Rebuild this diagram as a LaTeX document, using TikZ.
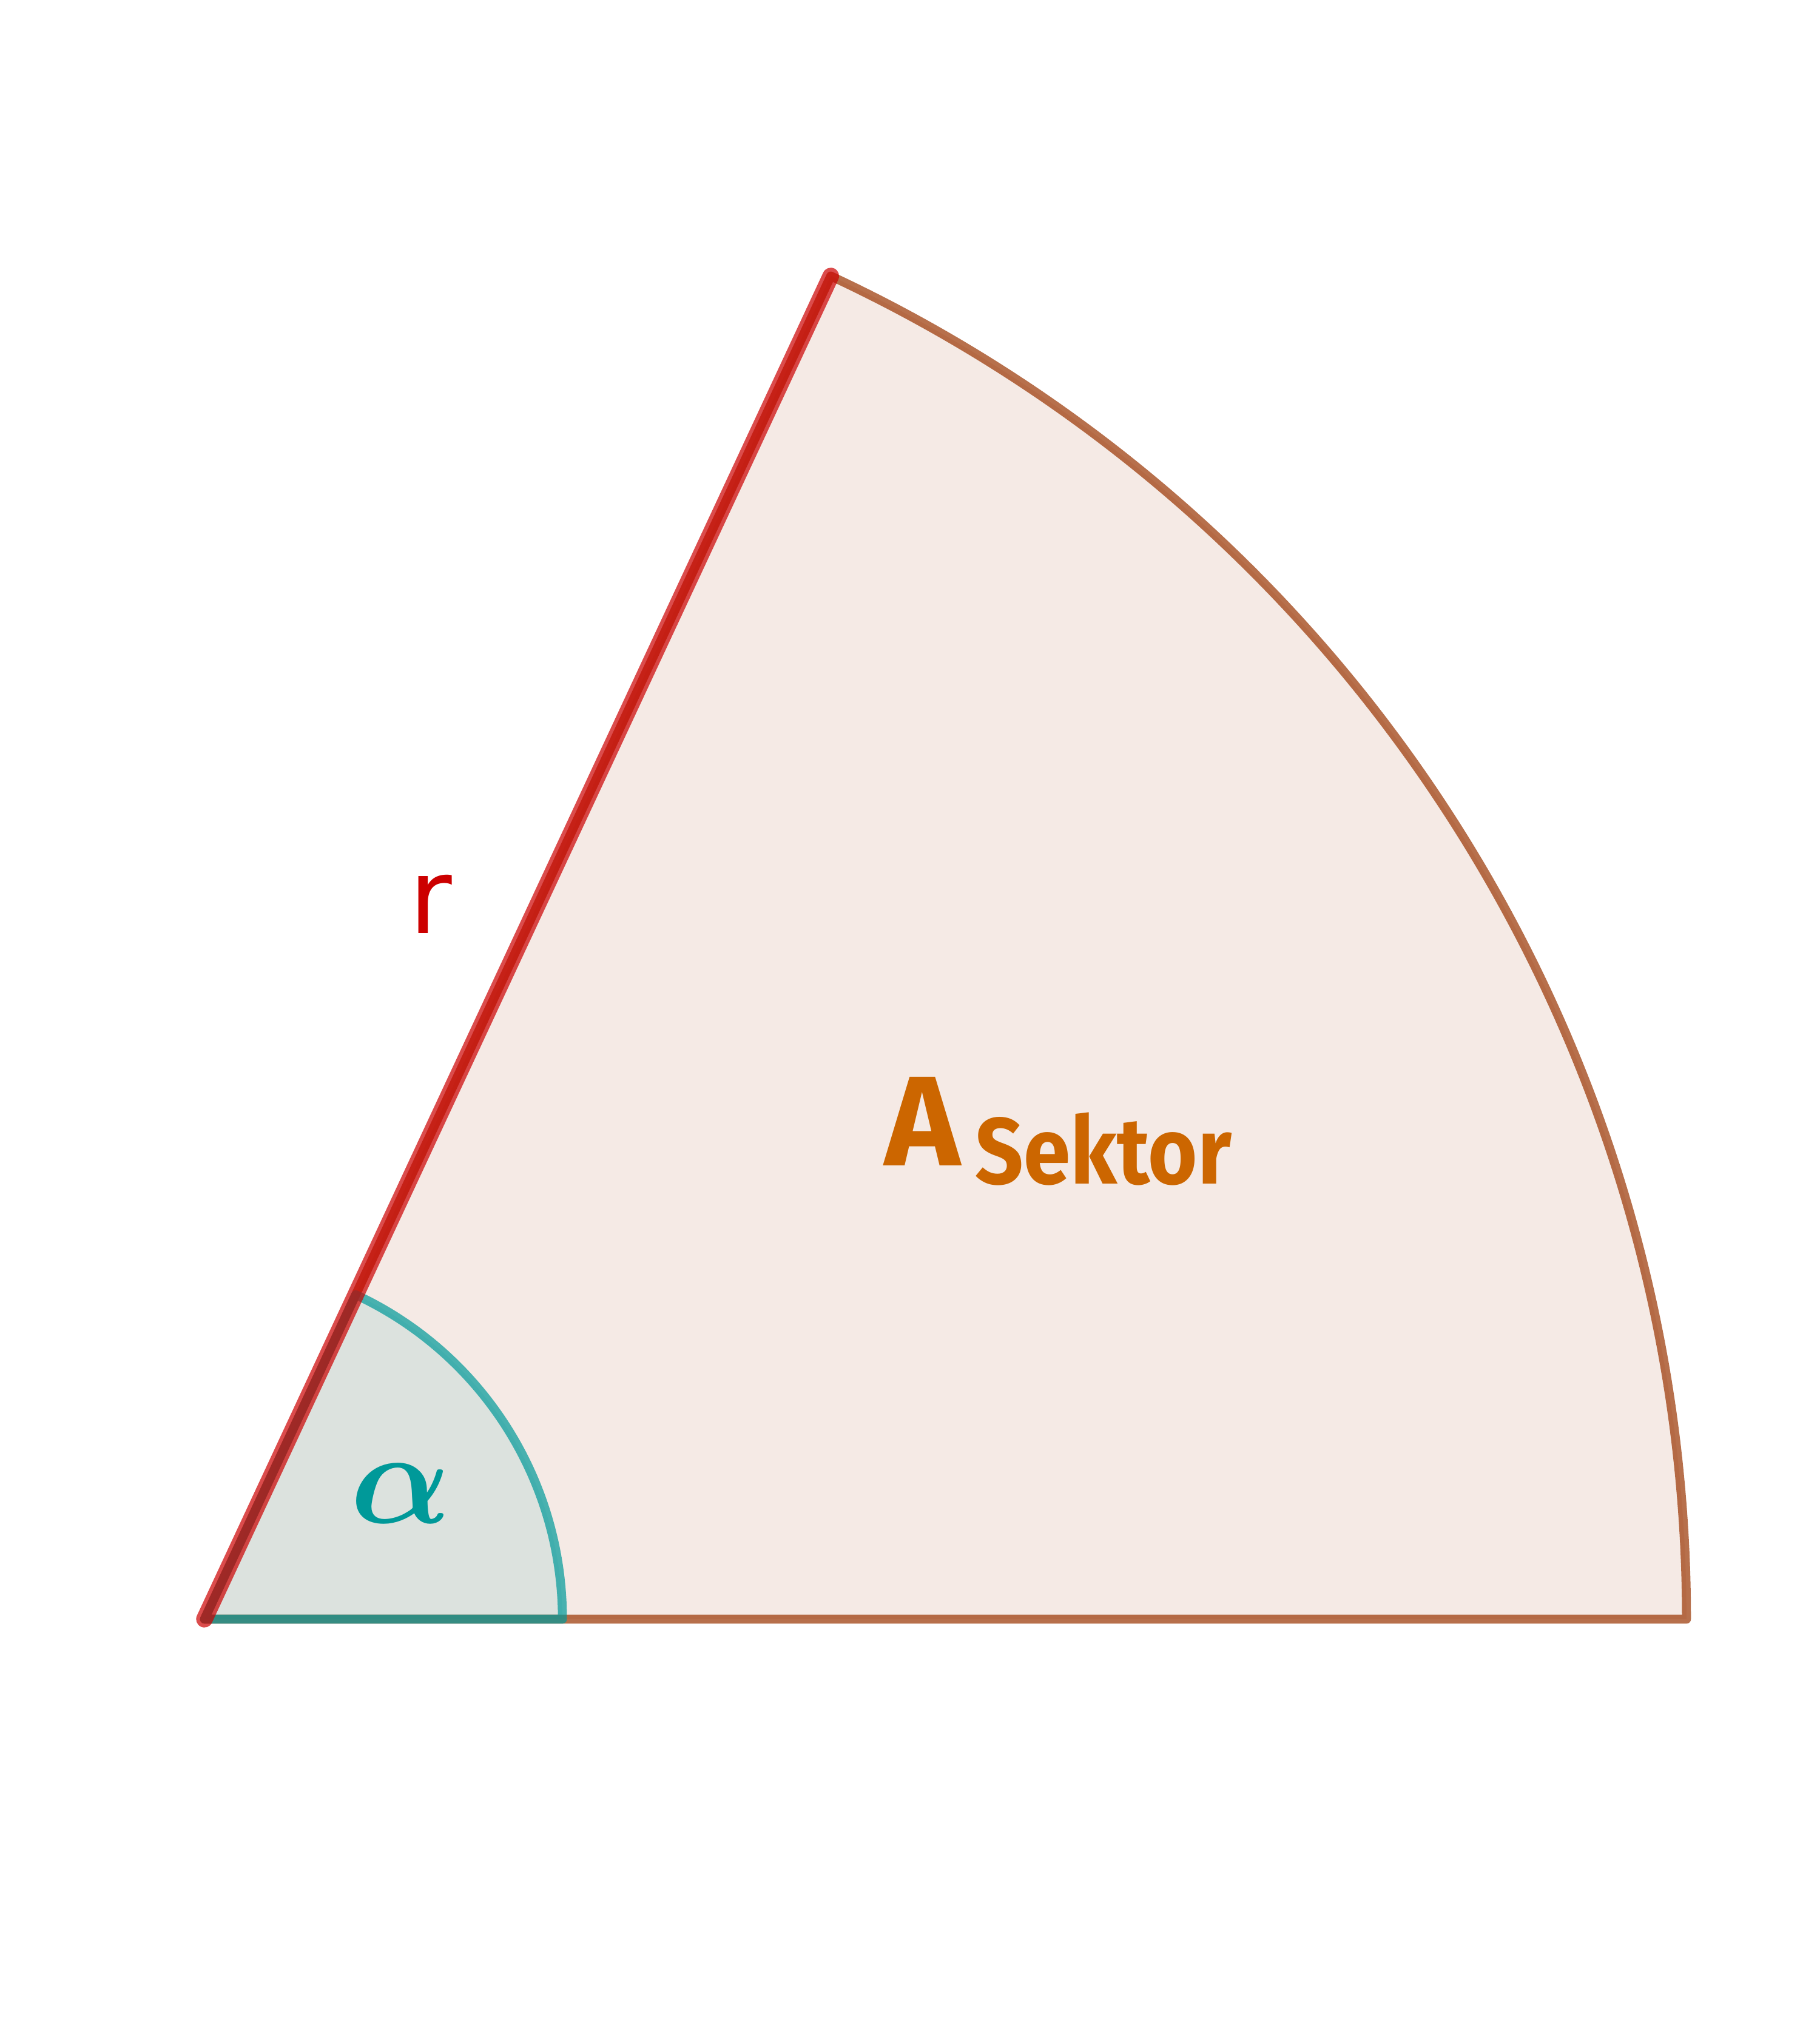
\documentclass[tikz,border=0pt]{standalone}
\usepackage{xcolor}
\usepackage{amsmath,bm}
\usepackage{fontspec}
\setsansfont{Fira Sans}
\newfontfamily\labelfont{DejaVu Sans}
\definecolor{sektorbraun}{HTML}{993300}
\definecolor{winkelteal}{HTML}{009999}
\definecolor{streckerot}{HTML}{CC0000}
\definecolor{textorange}{HTML}{CC6600}

\begin{document}
\begin{tikzpicture}[
		sektor/.style={draw=sektorbraun, draw opacity=0.7, fill=sektorbraun, fill opacity=0.1, line width=1.4pt, line join=round},
		winkel/.style={draw=winkelteal, draw opacity=0.7, fill=winkelteal, fill opacity=0.1, line width=1.4pt, line join=round},
		strecke/.style={draw=streckerot, draw opacity=0.7, line width=2.6pt, line cap=round}]
			\useasboundingbox (-1.1233,-2.3233) rectangle (8.8767,8.8967);
			\coordinate (O) at (0,0);
			\coordinate (P) at (8.143,0);
			\coordinate (Q) at (65:8.143);
			\coordinate (S) at (1.967,0);
			\path[sektor] (O)--(P) arc[start angle=0, end angle=65, radius=8.143]--cycle;
			\path[winkel] (O)--(S) arc[start angle=0, end angle=65, radius=1.967]--cycle;
			\draw[strecke] (O)--(Q);
			\node (r) at (1.243,3.77)[anchor=base, inner sep=0pt, text=streckerot]{\labelfont\fontsize{16.3}{18}\selectfont r};
			\node (alpha) at (1.08,0.69)[inner sep=0pt, text=winkelteal]{\fontsize{20}{24}\selectfont$\bm{\alpha}$};
			\node (A) at (3.73,2.493)[anchor=base west, inner sep=0pt, text=textorange]{\sffamily\bfseries\fontsize{20}{24}\selectfont A\hspace{2.4pt}\raisebox{-2.85pt}{\scalebox{0.9}[1]{\fontsize{14.7}{17}\selectfont Sektor}}};
		\end{tikzpicture}
\end{document}
